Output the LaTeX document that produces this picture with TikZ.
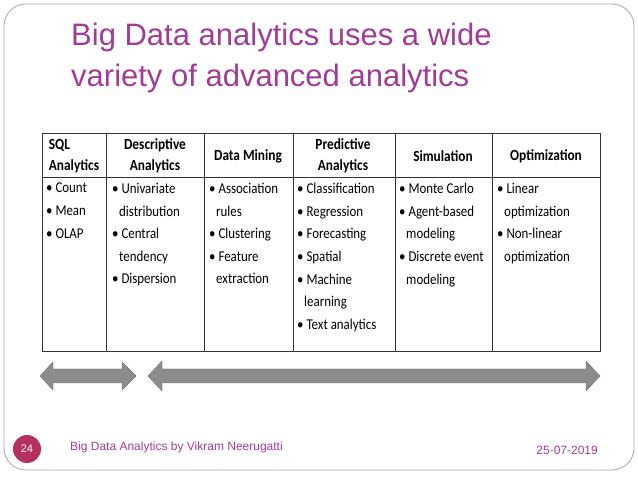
\documentclass[tikz,border=0pt]{standalone}
\usepackage{fontspec}
\setmainfont{Liberation Sans}
\newfontfamily\tbl[FakeStretch=0.86]{Carlito}
\definecolor{ttl}{HTML}{A23B97}
\definecolor{circ}{HTML}{B5305E}
\definecolor{arr}{HTML}{8C8C8C}
\newcommand{\ind}{\hspace*{7pt}}
\begin{document}
\begin{tikzpicture}[x=1pt,y=-1pt,
  hd/.style={font=\tbl\bfseries\fontsize{15.5}{21}\selectfont,align=center,anchor=center,inner sep=0},
  bd/.style={font=\tbl\fontsize{15}{22.6}\selectfont,align=left,anchor=north west,inner sep=0},
  garrow/.style={fill=arr,draw=arr!80!black,line width=0.4pt}]
\useasboundingbox (0,0) rectangle (638,478);
\draw[gray!70,line width=0.8pt,rounded corners=22] (4,4) rectangle (634,470);
\node[anchor=north west,text=ttl,font=\fontsize{31}{41}\selectfont,align=left,inner sep=0] (title) at (71,23) {Big Data analytics uses a wide\\variety of advanced analytics};
% table
\draw[line width=1pt,black!80] (42,134) rectangle (600,352);
\draw[line width=1pt,black!80] (42,178) -- (600,178);
\foreach \x in {106,204,293,395,492} \draw[line width=0.8pt,black!80] (\x,134) -- (\x,352);
\node[hd,align=left] (h1) at (74,156) {SQL\\Analytics};
\node[hd] (h2) at (155,156) {Descriptive\\Analytics};
\node[hd] (h3) at (248,156) {Data Mining};
\node[hd] (h4) at (343,156) {Predictive\\Analytics};
\node[hd] (h5) at (443,156) {Simulation};
\node[hd] (h6) at (546,156) {Optimization};
\node[bd] (b1) at (46,183) {\textbullet\ Count\\\textbullet\ Mean\\\textbullet\ OLAP};
\node[bd] (b2) at (112,183) {\textbullet\ Univariate\\\ind distribution\\\textbullet\ Central\\\ind tendency\\\textbullet\ Dispersion};
\node[bd] (b3) at (209,183) {\textbullet\ Association\\\ind rules\\\textbullet\ Clustering\\\textbullet\ Feature\\\ind extraction};
\node[bd] (b4) at (297,183) {\textbullet\ Classification\\\textbullet\ Regression\\\textbullet\ Forecasting\\\textbullet\ Spatial\\\textbullet\ Machine\\\ind learning\\\textbullet\ Text analytics};
\node[bd] (b5) at (399,183) {\textbullet\ Monte Carlo\\\textbullet\ Agent-based\\\ind modeling\\\textbullet\ Discrete event\\\ind modeling};
\node[bd] (b6) at (497,183) {\textbullet\ Linear\\\ind optimization\\\textbullet\ Non-linear\\\ind optimization};
% arrows
\fill[garrow] (40,376) -- (53,362) -- (53,369) -- (122,369) -- (122,362) -- (136,376) -- (122,390) -- (122,383) -- (53,383) -- (53,390) -- cycle;
\fill[garrow] (148,376) -- (162,361) -- (162,369) -- (586,369) -- (586,361) -- (600,376) -- (586,391) -- (586,383) -- (162,383) -- (162,391) -- cycle;
% footer
\node[circle,fill=circ,minimum size=28pt,inner sep=0,text=white,font=\fontsize{11}{12}\selectfont] (pg) at (27,449) {24};
\node[anchor=base west,text=ttl,font=\fontsize{12}{14}\selectfont,inner sep=0] (ft) at (70,451) {Big Data Analytics by Vikram Neerugatti};
\node[anchor=base east,text=ttl,font=\fontsize{12}{14}\selectfont,inner sep=0] (dt) at (598,455) {25-07-2019};
\end{tikzpicture}
\end{document}
